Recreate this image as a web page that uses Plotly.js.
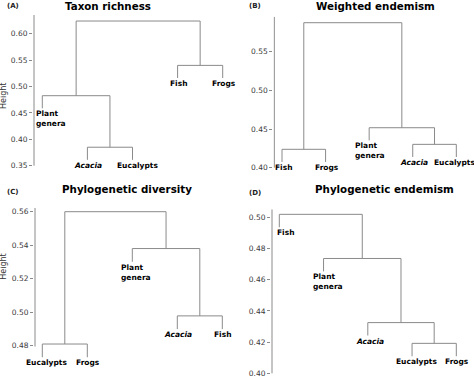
<!DOCTYPE html>
<html>
<head>
<meta charset="utf-8">
<script src="https://cdn.plot.ly/plotly-3.0.1.min.js"></script>
<style>html,body{margin:0;padding:0;background:#fff;}#chart{width:474px;height:376px;}</style>
</head>
<body>
<div id="chart"></div>
<script>
// ---------------- DATA ----------------
// Leaves are listed in their display order (left to right); merges reference
// leaves as negative 1-based indices and earlier merges as positive indices (hclust style).
const taxonTitle = "Taxon richness";
const taxonLeaves = ["Plant genera", "Acacia", "Eucalypts", "Fish", "Frogs"];
const taxonMerges = [[-2, -3], [-1, 1], [-4, -5], [2, 3]];
const taxonHeights = [0.385, 0.4826, 0.540, 0.624];
const taxonTicks = [0.35, 0.40, 0.45, 0.50, 0.55, 0.60];
const taxonTickLabels = ["0.35", "0.40", "0.45", "0.50", "0.55", "0.60"];

const weTitle = "Weighted endemism";
const weLeaves = ["Fish", "Frogs", "Plant genera", "Acacia", "Eucalypts"];
const weMerges = [[-1, -2], [-4, -5], [-3, 2], [1, 3]];
const weHeights = [0.4238, 0.4302, 0.4517, 0.5875];
const weTicks = [0.40, 0.45, 0.50, 0.55];
const weTickLabels = ["0.40", "0.45", "0.50", "0.55"];

const pdTitle = "Phylogenetic diversity";
const pdLeaves = ["Eucalypts", "Frogs", "Plant genera", "Acacia", "Fish"];
const pdMerges = [[-1, -2], [-4, -5], [-3, 2], [1, 3]];
const pdHeights = [0.481, 0.4978, 0.538, 0.560];
const pdTicks = [0.48, 0.50, 0.52, 0.54, 0.56];
const pdTickLabels = ["0.48", "0.50", "0.52", "0.54", "0.56"];

const peTitle = "Phylogenetic endemism";
const peLeaves = ["Fish", "Plant genera", "Acacia", "Eucalypts", "Frogs"];
const peMerges = [[-4, -5], [-3, 1], [-2, 2], [-1, 3]];
const peHeights = [0.4192, 0.4325, 0.4736, 0.5019];
const peTicks = [0.40, 0.42, 0.44, 0.46, 0.48, 0.50];
const peTickLabels = ["0.40", "0.42", "0.44", "0.46", "0.48", "0.50"];

const panelLetters = ["(A)", "(B)", "(C)", "(D)"];
const yTitle = "Height";
const hangFraction = 0.1;

// ---------------- LAYOUT / STYLE ----------------
const W = 474, H = 376;
const FONT = "DejaVu Sans, sans-serif";
const LINE = "#8a8a8a";

// pixel geometry of each panel
const geom = [
  {domL: 33, domR: 231, leaf1: 42.3, unit: 45.1, top: 15, bottom: 168, refVal: 0.60, refPx: 33.7, ppu: 528, lineBottom: 0.35,
   titleX: 107.5, titleY: 6, letterX: 12.8, letterY: 6, ylabX: 4, ylabY: 96},
  {domL: 273.3, domR: 466, leaf1: 282, unit: 43.58, top: 16.7, bottom: 170, refVal: 0.40, refPx: 167.7, ppu: 773.3, lineBottom: 0.40,
   titleX: 375.3, titleY: 6, letterX: 255.4, letterY: 6},
  {domL: 34, domR: 231, leaf1: 42.3, unit: 45, top: 208, bottom: 360, refVal: 0.48, refPx: 345.7, ppu: 1675, lineBottom: 0.4795,
   titleX: 126.7, titleY: 189.3, letterX: 12.8, letterY: 192.3, ylabX: 4, ylabY: 266.7},
  {domL: 271, domR: 466, leaf1: 279.3, unit: 44.25, top: 209.3, bottom: 375, refVal: 0.40, refPx: 373.3, ppu: 1560, lineBottom: 0.40,
   titleX: 384.5, titleY: 189.3, letterX: 255.4, letterY: 193.3}
];
// small horizontal label nudges (px), default 1
const labelNudge = [
  {"Plant genera": 9, "Eucalypts": 5},
  {"Eucalypts": -2, "Fish": 1.5},
  {"Plant genera": 4, "Eucalypts": 4},
  {"Fish": 6.5, "Plant genera": 4, "Eucalypts": 4, "Acacia": 2.5}
];

const panels = [
  {title: taxonTitle, leaves: taxonLeaves, merges: taxonMerges, heights: taxonHeights, ticks: taxonTicks, tickLabels: taxonTickLabels},
  {title: weTitle, leaves: weLeaves, merges: weMerges, heights: weHeights, ticks: weTicks, tickLabels: weTickLabels},
  {title: pdTitle, leaves: pdLeaves, merges: pdMerges, heights: pdHeights, ticks: pdTicks, tickLabels: pdTickLabels},
  {title: peTitle, leaves: peLeaves, merges: peMerges, heights: peHeights, ticks: peTicks, tickLabels: peTickLabels}
];

function dendro(p) {
  const hs = p.heights;
  const hang = hangFraction * (Math.max(...hs) - Math.min(...hs));
  const mx = [];
  const xs = [], ys = [];
  const leafEnd = {};
  p.merges.forEach((m, i) => {
    const h = hs[i];
    const pts = m.map(c => {
      if (c < 0) {
        const lx = -c;
        leafEnd[lx] = h - hang;
        return [lx, h - hang];
      }
      return [mx[c - 1], hs[c - 1]];
    });
    mx.push((pts[0][0] + pts[1][0]) / 2);
    xs.push(pts[0][0], pts[0][0], pts[1][0], pts[1][0], null);
    ys.push(pts[0][1], h, h, pts[1][1], null);
  });
  return {xs, ys, leafEnd};
}

const traces = [];
const annotations = [];
const layout = {
  width: W, height: H, autosize: false,
  margin: {l: 0, r: 0, t: 0, b: 0, pad: 0},
  paper_bgcolor: "#fff", plot_bgcolor: "#fff",
  showlegend: false,
  font: {family: FONT, color: "#000"}
};

panels.forEach((p, k) => {
  const g = geom[k];
  const sfx = k === 0 ? "" : String(k + 1);
  const xa = "x" + sfx, ya = "y" + sfx;
  const xr = [1 + (g.domL - g.leaf1) / g.unit, 1 + (g.domR - g.leaf1) / g.unit];
  const yr = [g.refVal + (g.refPx - g.bottom) / g.ppu, g.refVal + (g.refPx - g.top) / g.ppu];
  layout["xaxis" + sfx] = {
    domain: [g.domL / W, g.domR / W], range: xr, visible: false, fixedrange: true, anchor: ya
  };
  layout["yaxis" + sfx] = {
    domain: [1 - g.bottom / H, 1 - g.top / H], range: yr, anchor: xa, fixedrange: true,
    showline: false, showgrid: false, zeroline: false,
    tickmode: "array", tickvals: p.ticks, ticktext: p.tickLabels,
    ticks: "outside", ticklen: 3, tickwidth: 1, tickcolor: LINE,
    ticklabeloverflow: "allow",
    tickfont: {family: FONT, size: 7.5, color: "#3a3a3a"}
  };
  const d = dendro(p);
  traces.push({type: "scatter", mode: "lines", x: d.xs, y: d.ys, xaxis: xa, yaxis: ya,
    line: {color: LINE, width: 1}, hoverinfo: "skip"});
  // y axis line (only spanning the axis extent)
  const axX = 1 + (g.domL + 1 - g.leaf1) / g.unit;
  traces.push({type: "scatter", mode: "lines", x: [axX, axX], y: [g.lineBottom, yr[1]], xaxis: xa, yaxis: ya,
    line: {color: LINE, width: 1}, hoverinfo: "skip"});
  // leaf labels
  p.leaves.forEach((name, i) => {
    let txt = name === "Plant genera" ? "Plant<br>genera" : name;
    if (name === "Acacia") txt = "<i>" + txt + "</i>";
    const nudge = labelNudge[k][name] !== undefined ? labelNudge[k][name] : 1;
    annotations.push({
      x: i + 1, y: d.leafEnd[i + 1], xref: xa, yref: ya, showarrow: false,
      xanchor: "center", yanchor: "top", align: "left", xshift: nudge, yshift: 1,
      text: txt, font: {family: FONT, size: 7.5, color: "#000", weight: 700}
    });
  });
  // title
  annotations.push({
    x: g.titleX / W, y: 1 - g.titleY / H, xref: "paper", yref: "paper", showarrow: false,
    xanchor: "center", yanchor: "middle", text: p.title,
    font: {family: FONT, size: 10.3, color: "#000", weight: 700}
  });
  annotations.push({
    x: g.letterX / W, y: 1 - g.letterY / H, xref: "paper", yref: "paper", showarrow: false,
    xanchor: "center", yanchor: "middle", text: panelLetters[k],
    font: {family: FONT, size: 7, color: "#222", weight: 600}
  });
  if (g.ylabX !== undefined) {
    annotations.push({
      x: g.ylabX / W, y: 1 - g.ylabY / H, xref: "paper", yref: "paper", showarrow: false,
      xanchor: "center", yanchor: "middle", textangle: -90, text: yTitle,
      font: {family: FONT, size: 8, color: "#333"}
    });
  }
});
layout.annotations = annotations;

Plotly.newPlot("chart", traces, layout, {staticPlot: true, displayModeBar: false});
</script>
</body>
</html>
